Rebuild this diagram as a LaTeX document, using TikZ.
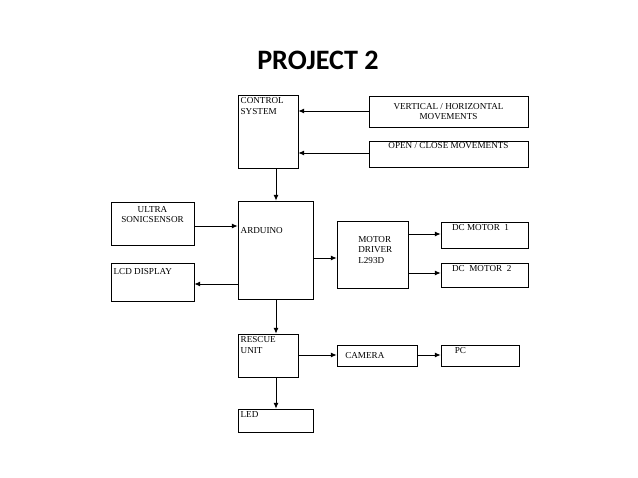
\documentclass[tikz,border=0pt]{standalone}
\usepackage{fontspec}
\setmainfont{Liberation Serif}
\newfontfamily\titlefont{Carlito}
\usetikzlibrary{arrows.meta}
\begin{document}
\begin{tikzpicture}[x=0.025cm, y=-0.025cm,
    block/.style={rectangle, draw, line width=0.6pt, inner sep=0pt},
    tag/.style={font=\fontsize{6.5}{7.5}\selectfont, align=left, anchor=north west, inner sep=2pt},
    ctag/.style={font=\fontsize{6.5}{7.5}\selectfont, align=center, inner sep=1pt},
    link/.style={-{Latex[length=4pt,width=3.5pt]}, line width=0.6pt}
]
\useasboundingbox (0,0) rectangle (638,478);

% Title
\node[font=\titlefont\fontsize{20}{24}\selectfont\bfseries] (title) at (318,60) {PROJECT 2};

% Blocks
\node[block, minimum width=60\pgflinewidth, minimum width=1.5cm, minimum height=1.825cm] (ctrl) at (268,131.5) {};
\node[tag] at (ctrl.north west) {CONTROL\\SYSTEM};
\node[block, minimum width=3.975cm, minimum height=0.775cm] (vh) at (448.5,111.5) {};
\node[ctag] at (vh.center) {VERTICAL / HORIZONTAL\\MOVEMENTS};
\node[block, minimum width=3.975cm, minimum height=0.65cm] (oc) at (448.5,154) {};
\node[ctag, anchor=north] at (oc.north) {OPEN / CLOSE MOVEMENTS};

\node[block, minimum width=1.875cm, minimum height=2.45cm] (ard) at (275.5,250) {};
\node[tag, anchor=west] at ([yshift=-0.75cm]ard.north west) {ARDUINO};
\node[block, minimum width=2.075cm, minimum height=1.075cm] (us) at (152.5,223.5) {};
\node[ctag, anchor=north] at ([yshift=-2pt]us.north) {ULTRA\\SONICSENSOR};
\node[block, minimum width=2.075cm, minimum height=0.95cm] (lcd) at (152.5,282) {};
\node[tag] at ([yshift=-2pt]lcd.north west) {LCD DISPLAY};

\node[block, minimum width=1.775cm, minimum height=1.675cm] (drv) at (372.5,254.5) {};
\node[ctag, align=left, anchor=north] at ([xshift=2pt,yshift=-0.35cm]drv.north) {MOTOR\\DRIVER\\L293D};
\node[block, minimum width=2.175cm, minimum height=0.65cm] (m1) at (484.5,235) {};
\node[tag, anchor=north west] at ([xshift=6pt]m1.north west) {DC MOTOR\ \ 1};
\node[block, minimum width=2.175cm, minimum height=0.6cm] (m2) at (484.5,275) {};
\node[tag, anchor=north west] at ([xshift=6pt]m2.north west) {DC\ \ MOTOR\ \ 2};

\node[block, minimum width=1.5cm, minimum height=1.075cm] (rescue) at (268,355.5) {};
\node[tag] at (rescue.north west) {RESCUE\\UNIT};
\node[block, minimum width=2cm, minimum height=0.525cm] (cam) at (377,355.5) {};
\node[tag, anchor=west] at ([xshift=4pt]cam.west) {CAMERA};
\node[block, minimum width=1.95cm, minimum height=0.525cm] (pc) at (480,355.5) {};
\node[tag] at ([xshift=8pt]pc.north west) {PC};

\node[block, minimum width=1.875cm, minimum height=0.575cm] (led) at (275.5,420.5) {};
\node[tag] at (led.north west) {LED};

% Connectors
\draw[link] (vh.west |- 0,111) -- (ctrl.east |- 0,111);
\draw[link] (oc.west |- 0,153) -- (ctrl.east |- 0,153);
\draw[link] (ctrl.south -| 276,0) -- (ard.north -| 276,0);
\draw[link] (us.east |- 0,226) -- (ard.west |- 0,226);
\draw[link] (ard.west |- 0,284) -- (lcd.east |- 0,284);
\draw[link] (ard.east |- 0,258) -- (drv.west |- 0,258);
\draw[link] (drv.east |- 0,234) -- (m1.west |- 0,234);
\draw[link] (drv.east |- 0,273) -- (m2.west |- 0,273);
\draw[link] (ard.south -| 276,0) -- (rescue.north -| 276,0);
\draw[link] (rescue.east |- 0,355) -- (cam.west |- 0,355);
\draw[link] (cam.east |- 0,355) -- (pc.west |- 0,355);
\draw[link] (rescue.south -| 276,0) -- (led.north -| 276,0);
\end{tikzpicture}
\end{document}
